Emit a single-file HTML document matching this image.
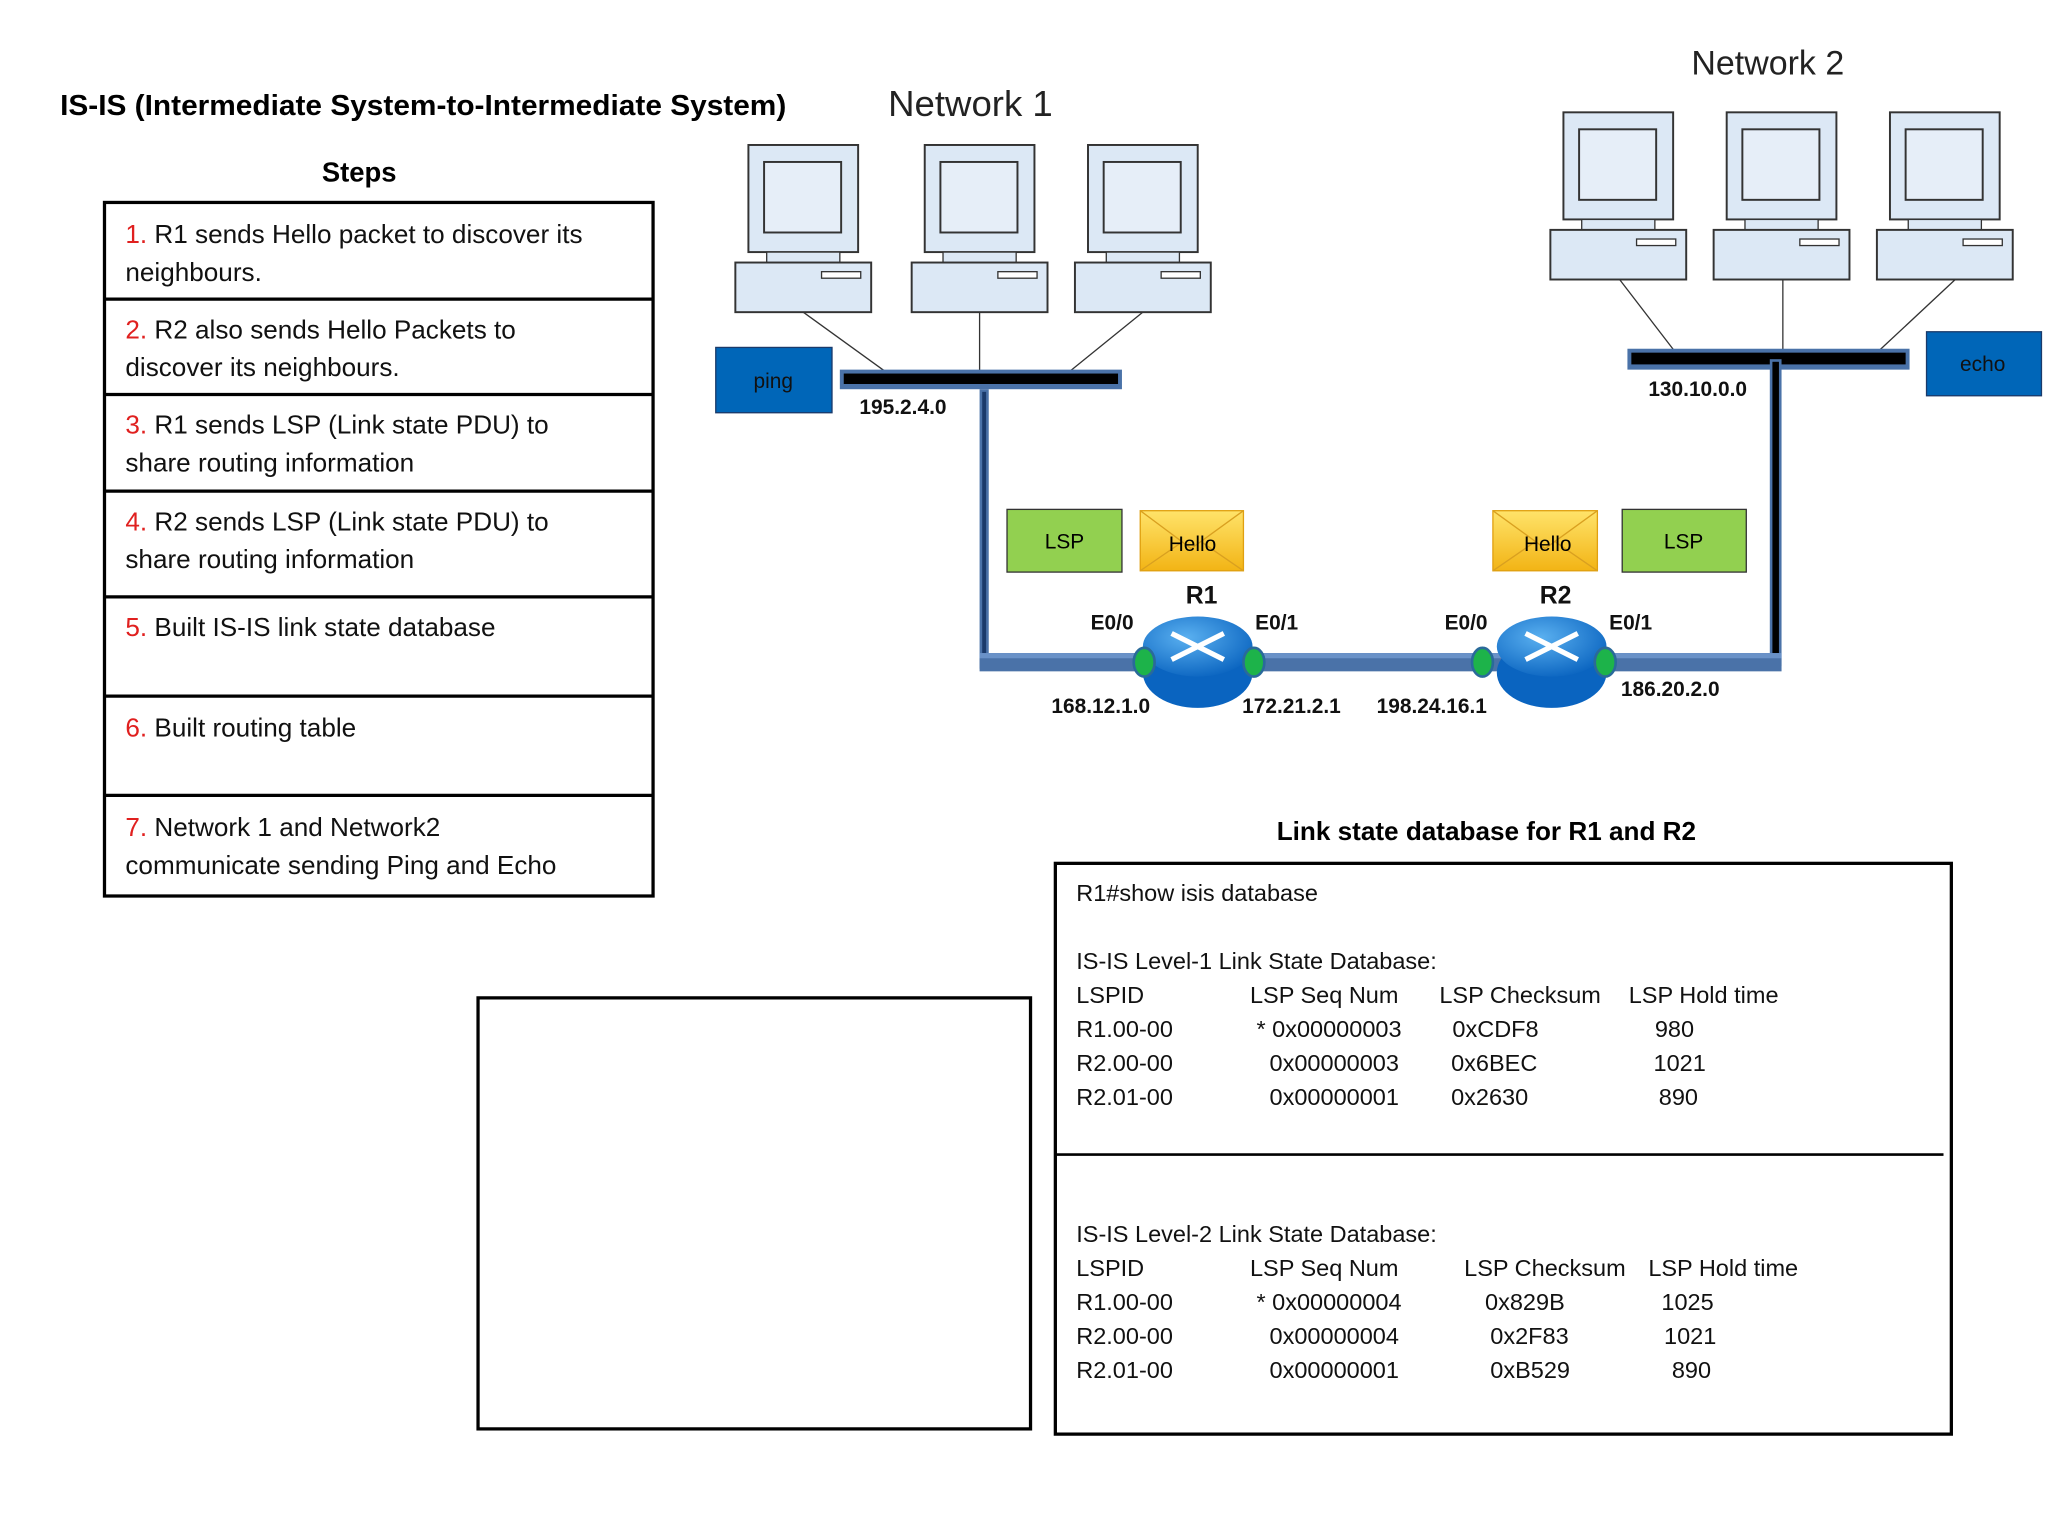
<!DOCTYPE html>
<html><head><meta charset="utf-8"><style>
html,body{margin:0;padding:0;background:#fff}
svg{display:block}
text{font-family:"Liberation Sans",sans-serif}
</style></head><body>
<svg width="2048" height="1536" viewBox="0 0 1568 1176" xmlns="http://www.w3.org/2000/svg">
<defs>
<radialGradient id="rg" cx="0.4" cy="0.35" r="0.7"><stop offset="0" stop-color="#5ab0f0"/><stop offset="1" stop-color="#0a64c0"/></radialGradient>
<linearGradient id="hg" x1="0" y1="0" x2="0" y2="1"><stop offset="0" stop-color="#ffe36a"/><stop offset="1" stop-color="#f2b415"/></linearGradient>
<g id="pc">
<rect x="10" y="0" width="84" height="82" fill="#dce8f5" stroke="#333" stroke-width="1.5"/>
<rect x="22" y="13" width="59" height="54" fill="#e6eef8" stroke="#333" stroke-width="1.5"/>
<rect x="24" y="82" width="56" height="8" fill="#dce8f5" stroke="#333" stroke-width="1"/>
<rect x="0" y="90" width="104" height="38" fill="#dce8f5" stroke="#333" stroke-width="1.5"/>
<rect x="66" y="97" width="30" height="5" fill="#fff" stroke="#333" stroke-width="1"/>
</g>
</defs>
<rect width="1568" height="1176" fill="#fff"/>
<text x="46" y="88" font-size="22" font-weight="bold" textLength="556" lengthAdjust="spacingAndGlyphs">IS-IS (Intermediate System-to-Intermediate System)</text>
<text x="275" y="139" font-size="21" font-weight="bold" text-anchor="middle">Steps</text>
<g fill="none" stroke="#000" stroke-width="2.5">
<rect x="80" y="155" width="420" height="531"/>
<line x1="80" y1="229" x2="500" y2="229"/><line x1="80" y1="302" x2="500" y2="302"/><line x1="80" y1="376" x2="500" y2="376"/><line x1="80" y1="457" x2="500" y2="457"/><line x1="80" y1="533" x2="500" y2="533"/><line x1="80" y1="609" x2="500" y2="609"/>
</g>
<g font-size="20" fill="#111">
<text x="96" y="186"><tspan fill="#e0201f">1.</tspan>  R1 sends Hello packet to discover its</text><text x="96" y="215">neighbours.</text>
<text x="96" y="259"><tspan fill="#e0201f">2.</tspan>  R2 also sends Hello Packets to</text><text x="96" y="288">discover its neighbours.</text>
<text x="96" y="332"><tspan fill="#e0201f">3.</tspan> R1 sends LSP (Link state PDU) to</text><text x="96" y="361">share routing information</text>
<text x="96" y="406"><tspan fill="#e0201f">4.</tspan> R2 sends LSP (Link state PDU) to</text><text x="96" y="435">share routing information</text>
<text x="96" y="487"><tspan fill="#e0201f">5.</tspan>  Built IS-IS link state database</text>
<text x="96" y="564"><tspan fill="#e0201f">6.</tspan>  Built routing table</text>
<text x="96" y="640"><tspan fill="#e0201f">7.</tspan>  Network 1 and Network2</text><text x="96" y="669">communicate sending  Ping and Echo</text>
</g>
<rect x="366" y="764" width="423" height="330" fill="none" stroke="#000" stroke-width="2.5"/>
<text x="1138" y="643" font-size="20" font-weight="bold" text-anchor="middle">Link state database for R1 and R2</text>
<rect x="808" y="661" width="686" height="437" fill="none" stroke="#000" stroke-width="2.5"/>
<line x1="808" y1="884" x2="1488" y2="884" stroke="#000" stroke-width="2"/>
<g font-size="18" fill="#111">
<text x="824" y="690">R1#show isis database</text>
<text x="824" y="742">IS-IS Level-1 Link State Database:</text>
<text x="824" y="768">LSPID</text><text x="957" y="768">LSP Seq Num</text><text x="1102" y="768">LSP Checksum</text><text x="1247" y="768">LSP Hold time</text>
<text x="824" y="794">R1.00-00</text><text x="962" y="794">* 0x00000003</text><text x="1112" y="794">0xCDF8</text><text x="1267" y="794">980</text>
<text x="824" y="820">R2.00-00</text><text x="972" y="820">0x00000003</text><text x="1111" y="820">0x6BEC</text><text x="1266" y="820">1021</text>
<text x="824" y="846">R2.01-00</text><text x="972" y="846">0x00000001</text><text x="1111" y="846">0x2630</text><text x="1270" y="846">890</text>
<text x="824" y="951">IS-IS Level-2 Link State Database:</text>
<text x="824" y="977">LSPID</text><text x="957" y="977">LSP Seq Num</text><text x="1121" y="977">LSP Checksum</text><text x="1262" y="977">LSP Hold time</text>
<text x="824" y="1003">R1.00-00</text><text x="962" y="1003">* 0x00000004</text><text x="1137" y="1003">0x829B</text><text x="1272" y="1003">1025</text>
<text x="824" y="1029">R2.00-00</text><text x="972" y="1029">0x00000004</text><text x="1141" y="1029">0x2F83</text><text x="1274" y="1029">1021</text>
<text x="824" y="1055">R2.01-00</text><text x="972" y="1055">0x00000001</text><text x="1141" y="1055">0xB529</text><text x="1280" y="1055">890</text>
</g>
<text x="680" y="89" font-size="28" fill="#222">Network 1</text>
<text x="1295" y="57" font-size="26" fill="#222">Network 2</text>
<use href="#pc" x="563" y="111"/><use href="#pc" x="698" y="111"/><use href="#pc" x="823" y="111"/>
<use href="#pc" x="1187" y="86" transform="translate(0,0)"/><use href="#pc" x="1312" y="86"/><use href="#pc" x="1437" y="86"/>
<g stroke="#333" stroke-width="1">
<line x1="615" y1="239" x2="680" y2="286"/><line x1="750" y1="239" x2="750" y2="286"/><line x1="875" y1="239" x2="817" y2="286"/>
<line x1="1240" y1="214" x2="1283" y2="270"/><line x1="1365" y1="214" x2="1365" y2="270"/><line x1="1497" y1="214" x2="1437" y2="270"/>
</g>
<rect x="643" y="283" width="216" height="15" fill="#4a72a8"/><rect x="646" y="286" width="210" height="8" fill="#000"/>
<rect x="1246" y="267" width="216" height="16" fill="#4a72a8"/><rect x="1249" y="270" width="210" height="9" fill="#000"/>
<rect x="548" y="266" width="89" height="50" fill="#0066b8" stroke="#1a3a6a"/><text x="592" y="297" font-size="16" text-anchor="middle" fill="#111">ping</text>
<rect x="1475" y="254" width="88" height="49" fill="#0066b8" stroke="#1a3a6a"/><text x="1518" y="284" font-size="16" text-anchor="middle" fill="#111">echo</text>
<rect x="750" y="298" width="7" height="214" fill="#4a72a8"/><rect x="752" y="300" width="3" height="208" fill="#1a3a6a"/>
<rect x="1355" y="275" width="9" height="235" fill="#4a72a8"/><rect x="1357" y="277" width="5" height="228" fill="#000"/>
<rect x="750" y="500" width="614" height="14" fill="#4a72a8"/><rect x="750" y="500" width="614" height="4" fill="#6a92c8"/>
<g font-size="16" font-weight="bold" fill="#111">
<text x="658" y="317">195.2.4.0</text><text x="1262" y="303">130.10.0.0</text>
<text x="805" y="546">168.12.1.0</text><text x="951" y="546">172.21.2.1</text><text x="1054" y="546">198.24.16.1</text><text x="1241" y="533">186.20.2.0</text>
<text x="835" y="482">E0/0</text><text x="961" y="482">E0/1</text><text x="1106" y="482">E0/0</text><text x="1232" y="482">E0/1</text>
<text x="920" y="462" font-size="19" text-anchor="middle">R1</text><text x="1191" y="462" font-size="19" text-anchor="middle">R2</text>
</g>
<rect x="771" y="390" width="88" height="48" fill="#92d050" stroke="#333"/><text x="815" y="420" font-size="16" text-anchor="middle">LSP</text>
<rect x="1242" y="390" width="95" height="48" fill="#92d050" stroke="#333"/><text x="1289" y="420" font-size="16" text-anchor="middle">LSP</text>
<rect x="873" y="391" width="79" height="46" fill="url(#hg)" stroke="#e0a010"/><path d="M873 391 L912 420 L952 391 M873 437 L905 415 M952 437 L920 415" stroke="#d9a020" fill="none"/><text x="913" y="422" font-size="16" text-anchor="middle">Hello</text>
<rect x="1143" y="391" width="80" height="46" fill="url(#hg)" stroke="#e0a010"/><path d="M1143 391 L1183 420 L1223 391 M1143 437 L1175 415 M1223 437 L1191 415" stroke="#d9a020" fill="none"/><text x="1185" y="422" font-size="16" text-anchor="middle">Hello</text>
<g>
<ellipse cx="917" cy="515" rx="42" ry="27" fill="#0a64c0"/><ellipse cx="917" cy="495" rx="42" ry="23" fill="url(#rg)"/>
<path d="M897 485 L937 505 M937 485 L897 505" stroke="#fff" stroke-width="4"/>
<ellipse cx="1188" cy="515" rx="42" ry="27" fill="#0a64c0"/><ellipse cx="1188" cy="495" rx="42" ry="23" fill="url(#rg)"/>
<path d="M1168 485 L1208 505 M1208 485 L1168 505" stroke="#fff" stroke-width="4"/>
</g>
<g fill="#1db34a" stroke="#2a6a9a" stroke-width="2">
<ellipse cx="876" cy="507" rx="8" ry="11"/><ellipse cx="960" cy="507" rx="8" ry="11"/><ellipse cx="1135" cy="507" rx="8" ry="11"/><ellipse cx="1229" cy="507" rx="8" ry="11"/>
</g>
</svg>
</body></html>
